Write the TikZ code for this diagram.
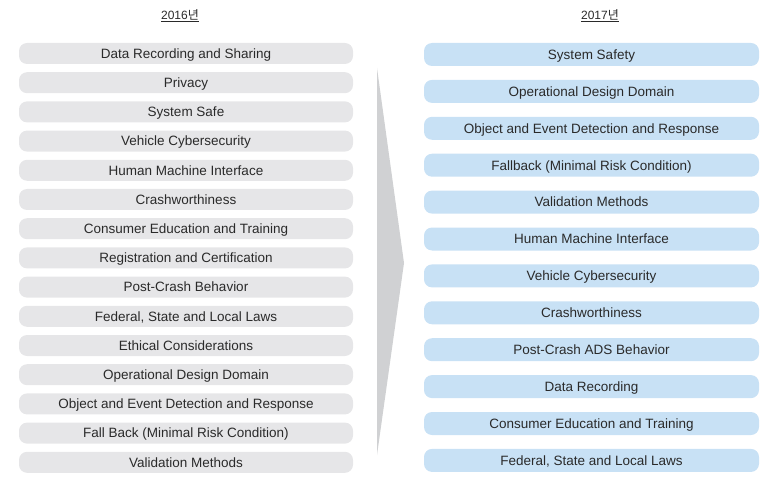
\documentclass[tikz,border=0pt]{standalone}
\usepackage{fontspec}
\setmainfont{Liberation Sans}
\newfontfamily\krfont{Noto Sans CJK KR}
\definecolor{oldgray}{HTML}{E6E6E8}
\definecolor{newblue}{HTML}{C8E1F5}
\definecolor{arrowgray}{HTML}{D0D1D3}
\definecolor{textgray}{HTML}{2A2A2A}
\tikzset{
  item/.style={rounded corners=8pt, minimum height=21pt, minimum width=334pt,
    inner sep=0pt, text height=9.7pt, text depth=0pt, text=textgray,
    font=\fontsize{13.5}{16}\selectfont},
  olditem/.style={item, fill=oldgray},
  newitem/.style={item, fill=newblue, minimum height=23pt, minimum width=335pt},
  yeartitle/.style={text=textgray, font=\fontsize{12}{14}\selectfont, inner sep=0pt}
}
\begin{document}
\begin{tikzpicture}[x=1pt,y=-1pt]
  \useasboundingbox (0,0) rectangle (775,486);
  \node[yeartitle] (t16) at (180,15.5) {\underline{2016\krfont 년}};
  \node[yeartitle] (t17) at (600,15.5) {\underline{2017\krfont 년}};
  % 2016 items
  \foreach \txt [count=\i] in {Data Recording and Sharing, Privacy, System Safe,
      Vehicle Cybersecurity, Human Machine Interface, Crashworthiness,
      Consumer Education and Training, Registration and Certification,
      Post-Crash Behavior, {Federal, State and Local Laws}, Ethical Considerations,
      Operational Design Domain, Object and Event Detection and Response,
      Fall Back (Minimal Risk Condition), Validation Methods}
    \node[olditem] (l\i) at (186,{53.5+29.2*(\i-1)}) {\txt};
  % 2017 items
  \foreach \txt [count=\i] in {System Safety, Operational Design Domain,
      Object and Event Detection and Response, Fallback (Minimal Risk Condition),
      Validation Methods, Human Machine Interface, Vehicle Cybersecurity,
      Crashworthiness, Post-Crash ADS Behavior, Data Recording,
      Consumer Education and Training, {Federal, State and Local Laws}}
    \node[newitem] (r\i) at (591.5,{54.5+36.9*(\i-1)}) {\txt};
  % arrow
  \fill[arrowgray] (377,68) -- (404,263) -- (377,455) -- cycle;
\end{tikzpicture}
\end{document}
